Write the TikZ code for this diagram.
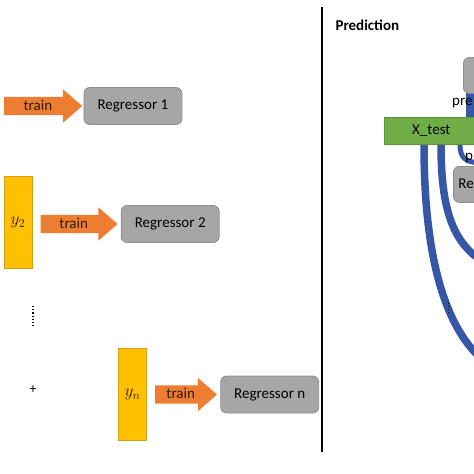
\documentclass[tikz,border=0pt]{standalone}
\usepackage{fontspec}
\setmainfont{Carlito}
\usetikzlibrary{positioning,shapes.arrows,backgrounds,calc}

\definecolor{regfill}{HTML}{A6A6A6}
\definecolor{regedge}{HTML}{8E8E8E}
\definecolor{trainorange}{HTML}{ED7D31}
\definecolor{ytarget}{HTML}{FFC000}
\definecolor{yedge}{HTML}{D4A017}
\definecolor{xgreen}{HTML}{70AD47}
\definecolor{xedge}{HTML}{5E9438}
\definecolor{feedblue}{HTML}{3557A5}
\definecolor{darktxt}{HTML}{2E1A08}

\begin{document}
\begin{tikzpicture}[x=1pt, y=-1pt,
    txt/.style={font=\fontsize{15}{18}\selectfont},
    reg/.style={txt, draw=regedge, fill=regfill, line width=0.8pt, rounded corners=6pt, minimum width=98pt, minimum height=37pt, inner sep=0pt},
    target/.style={font=\fontsize{18}{20}\selectfont, draw=yedge, fill=ytarget, line width=0.6pt, minimum width=28pt, minimum height=92pt, inner sep=0pt, text=darktxt},
    trainarr/.style={txt, single arrow, fill=trainorange, single arrow head extend=7.5pt, single arrow tip angle=82, text height=8pt, text depth=0pt, inner ysep=5pt, inner xsep=2pt, minimum width=0pt, text=darktxt},
    xbox/.style={txt, draw=xedge, fill=xgreen, line width=0.6pt, minimum width=94pt, minimum height=27pt, inner sep=0pt},
    feed/.style={draw=feedblue, line width=7.5pt},
    divider/.style={line width=1.6pt}
]
    \useasboundingbox (0,0) rectangle (474,474);
    \clip (0,0) rectangle (474,474);

    % Training side
    \node[trainarr, minimum height=78pt, anchor=tail] (tr1) at (4,106) {train};
    \node[reg, right=1pt of tr1.tip] (reg1) {Regressor 1};

    \node[target] (y2) at (18,222.5) {$y_2$};
    \node[trainarr, minimum height=77pt, anchor=tail] (tr2) at ($(y2.east)+(8,1.5)$) {train};
    \node[reg, right=3pt of tr2.tip] (reg2) {Regressor 2};

    \coordinate (vdtop) at (33,306);
    \coordinate (vdbot) at (33,327);
    \draw[dotted, line width=1.2pt] (vdtop) -- (vdbot);
    \node[font=\fontsize{14}{16}\selectfont] (plus) at (33,390) {+};

    \node[target] (yn) at (132.5,394.5) {$y_n$};
    \node[trainarr, minimum height=62pt, anchor=tail] (trn) at ($(yn.east)+(8,0)$) {train};
    \node[reg, right=3pt of trn.tip] (regn) {Regressor n};

    % Divider
    \coordinate (divtop) at (322,7);
    \coordinate (divbot) at (322,452);
    \draw[divider] (divtop) -- (divbot);

    % Prediction side
    \node[txt, font=\fontsize{15}{18}\selectfont\bfseries, anchor=west] (predtitle) at (332,25) {Prediction};
    \node[reg, minimum width=40pt, minimum height=36pt, anchor=north west] (regtop) at (463,57) {};
    \node[txt, anchor=west, inner sep=0pt] (predlbl) at (452,103) {pre};
    \node[xbox, anchor=north west] (xtest) at (384,117) {X\_test};
    \node[reg, minimum width=40pt, minimum height=36pt, anchor=north west] (regright) at (453,166) {};
    \node[txt, anchor=east, inner sep=0pt] (relbl) at (474,184) {Re};
    \node[txt, anchor=west, inner sep=0pt] (plbl) at (465,158) {p};

    \coordinate (rdtop) at (448,303);
    \coordinate (rdbot) at (448,313);
    \draw[dotted, line width=1pt] (rdtop) -- (rdbot);

    \coordinate (ftop) at (470,93);
    \coordinate (a1end) at (480,163);
    \coordinate (a2end) at (495,268);
    \coordinate (a3end) at (500,372);

    \begin{pgfonlayer}{background}
        \draw[feed] (ftop) -- (xtest.north -| ftop);
        \draw[feed, line width=5pt] ([xshift=76pt]xtest.south west) .. controls +(0,14) and +(-14,-1) .. (a1end);
        \draw[feed] ([xshift=57pt]xtest.south west) .. controls +(0,71) and +(-40,-18) .. (a2end);
        \draw[feed] ([xshift=40pt]xtest.south west) .. controls +(0,126) and +(-50,-27) .. (a3end);
    \end{pgfonlayer}
\end{tikzpicture}
\end{document}
